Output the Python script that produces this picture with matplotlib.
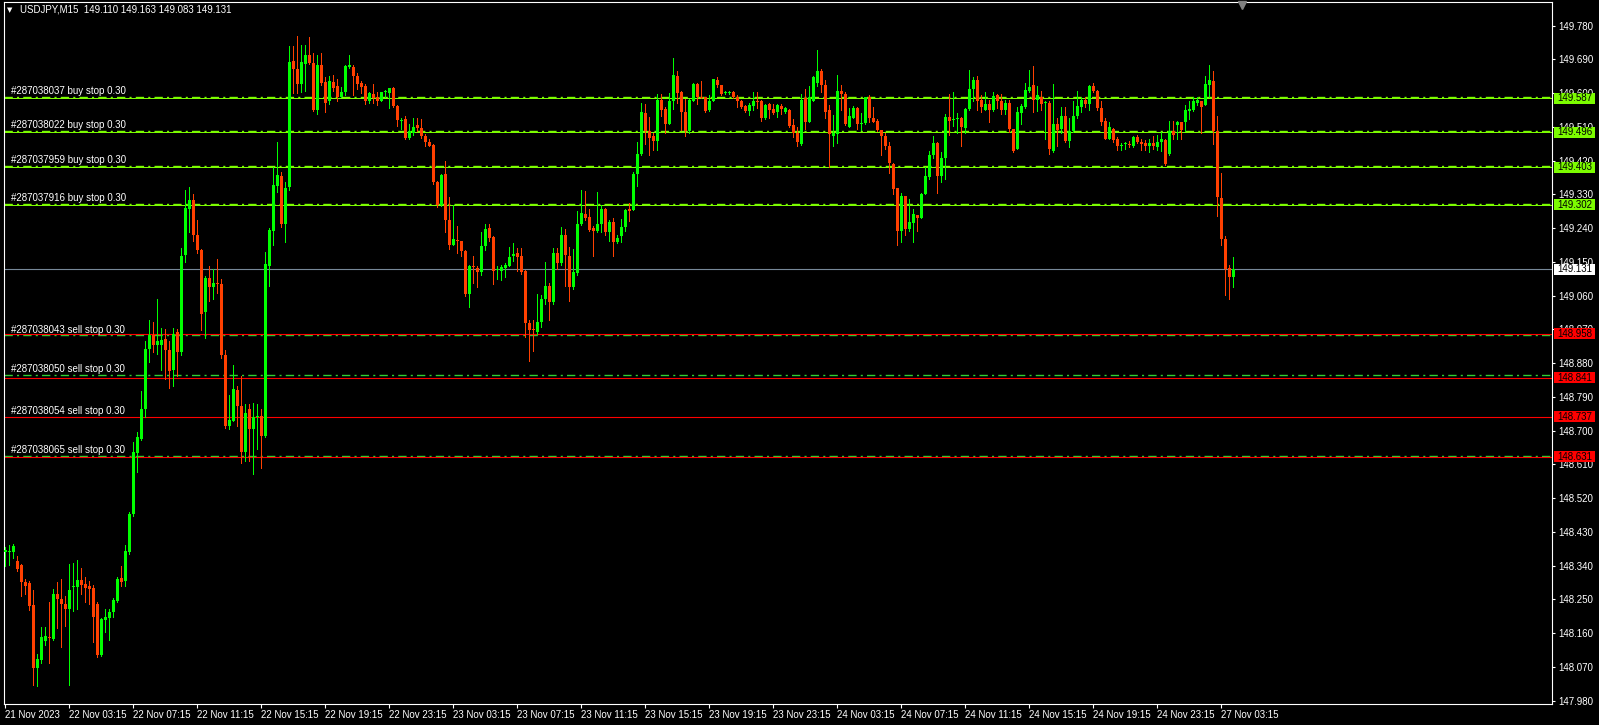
import numpy as np
import matplotlib
matplotlib.use('Agg')
import matplotlib.pyplot as plt
from matplotlib.patches import Rectangle
from matplotlib.transforms import blended_transform_factory

plt.rcParams['font.family'] = ['Liberation Sans', 'DejaVu Sans']

# USDJPY M15 candles
opens = [
    148.377, 148.376, 148.377, 148.352, 148.341, 148.296, 148.293, 148.235, 148.068, 148.088,
    148.139, 148.148, 148.145, 148.265, 148.250, 148.239, 148.224, 148.282, 148.282, 148.302,
    148.291, 148.287, 148.281, 148.237, 148.102, 148.194, 148.201, 148.216, 148.245, 148.307,
    148.298, 148.377, 148.478, 148.641, 148.678, 148.758, 148.918, 148.955, 148.929, 148.929,
    148.944, 148.916, 148.862, 148.963, 148.910, 149.168, 149.292, 149.316, 149.221, 149.182,
    149.017, 149.106, 149.082, 149.093, 149.091, 148.901, 148.713, 148.727, 148.809, 148.767,
    148.643, 148.758, 148.705, 148.737, 148.738, 148.685, 149.140, 149.232, 149.353, 149.379,
    149.252, 149.351, 149.687, 149.665, 149.625, 149.677, 149.701, 149.681, 149.555, 149.676,
    149.630, 149.578, 149.629, 149.619, 149.591, 149.602, 149.670, 149.670, 149.645, 149.628,
    149.619, 149.580, 149.598, 149.589, 149.580, 149.603, 149.600, 149.614, 149.566, 149.526,
    149.531, 149.480, 149.493, 149.515, 149.506, 149.485, 149.471, 149.462, 149.364, 149.303,
    149.384, 149.261, 149.196, 149.208, 149.205, 149.180, 149.065, 149.138, 149.133, 149.123,
    149.193, 149.241, 149.216, 149.129, 149.125, 149.134, 149.140, 149.166, 149.174, 149.166,
    149.125, 148.988, 148.970, 148.963, 148.990, 149.050, 149.086, 149.043, 149.174, 149.146,
    149.223, 149.166, 149.082, 149.121, 149.252, 149.278, 149.269, 149.241, 149.233, 149.252,
    149.292, 149.230, 149.256, 149.202, 149.219, 149.243, 149.290, 149.288, 149.385, 149.437,
    149.546, 149.499, 149.485, 149.473, 149.583, 149.557, 149.519, 149.578, 149.645, 149.602,
    149.550, 149.499, 149.580, 149.625, 149.590, 149.589, 149.555, 149.580, 149.636, 149.623,
    149.601, 149.601, 149.604, 149.591, 149.580, 149.566, 149.553, 149.566, 149.579, 149.578,
    149.533, 149.572, 149.557, 149.550, 149.566, 149.550, 149.555, 149.516, 149.494, 149.465,
    149.586, 149.524, 149.580, 149.626, 149.660, 149.623, 149.555, 149.486, 149.490, 149.606,
    149.598, 149.510, 149.535, 149.561, 149.519, 149.521, 149.589, 149.535, 149.527, 149.501,
    149.486, 149.459, 149.412, 149.347, 149.233, 149.325, 149.239, 149.254, 149.275, 149.266,
    149.331, 149.376, 149.434, 149.468, 149.378, 149.428, 149.536, 149.529, 149.532, 149.533,
    149.508, 149.558, 149.611, 149.634, 149.583, 149.555, 149.570, 149.555, 149.594, 149.578,
    149.555, 149.574, 149.505, 149.451, 149.547, 149.563, 149.606, 149.623, 149.583, 149.591,
    149.574, 149.575, 149.446, 149.518, 149.505, 149.540, 149.473, 149.499, 149.538, 149.564,
    149.583, 149.572, 149.619, 149.606, 149.561, 149.525, 149.479, 149.505, 149.477, 149.460,
    149.465, 149.464, 149.460, 149.482, 149.471, 149.468, 149.460, 149.468, 149.457, 149.469,
    149.474, 149.437, 149.499, 149.516, 149.522, 149.522, 149.553, 149.555, 149.575, 149.578,
    149.569, 149.623, 149.632, 149.499, 149.320, 149.210, 149.134, 149.110,
]
highs = [
    148.390, 148.394, 148.397, 148.366, 148.345, 148.304, 148.298, 148.276, 148.104, 148.177,
    148.177, 148.244, 148.278, 148.296, 148.304, 148.259, 148.345, 148.346, 148.354, 148.334,
    148.310, 148.298, 148.289, 148.243, 148.200, 148.225, 148.225, 148.253, 148.310, 148.338,
    148.394, 148.483, 148.669, 148.697, 148.806, 148.938, 148.994, 148.989, 149.052, 148.974,
    148.972, 148.938, 148.974, 148.972, 149.187, 149.342, 149.351, 149.331, 149.261, 149.185,
    149.112, 149.140, 149.131, 149.157, 149.104, 148.916, 148.794, 148.874, 148.820, 148.846,
    148.770, 148.772, 148.775, 148.770, 148.758, 149.176, 149.241, 149.404, 149.471, 149.389,
    149.362, 149.726, 149.726, 149.753, 149.729, 149.729, 149.749, 149.707, 149.703, 149.707,
    149.643, 149.647, 149.648, 149.639, 149.617, 149.676, 149.701, 149.676, 149.654, 149.632,
    149.625, 149.602, 149.625, 149.602, 149.604, 149.609, 149.614, 149.617, 149.569, 149.535,
    149.538, 149.519, 149.535, 149.533, 149.531, 149.490, 149.477, 149.465, 149.367, 149.385,
    149.418, 149.322, 149.303, 149.247, 149.207, 149.183, 149.142, 149.165, 149.140, 149.230,
    149.252, 149.252, 149.219, 149.138, 149.142, 149.148, 149.190, 149.201, 149.187, 149.187,
    149.129, 148.996, 148.994, 149.065, 149.061, 149.151, 149.095, 149.187, 149.187, 149.243,
    149.238, 149.191, 149.185, 149.286, 149.342, 149.340, 149.292, 149.247, 149.336, 149.302,
    149.295, 149.261, 149.266, 149.222, 149.264, 149.292, 149.306, 149.389, 149.471, 149.574,
    149.570, 149.536, 149.494, 149.598, 149.598, 149.564, 149.600, 149.693, 149.660, 149.606,
    149.584, 149.584, 149.628, 149.628, 149.632, 149.591, 149.595, 149.639, 149.642, 149.623,
    149.605, 149.606, 149.605, 149.595, 149.583, 149.569, 149.575, 149.604, 149.602, 149.583,
    149.572, 149.575, 149.572, 149.572, 149.572, 149.563, 149.558, 149.531, 149.510, 149.598,
    149.611, 149.619, 149.647, 149.716, 149.665, 149.636, 149.569, 149.541, 149.648, 149.621,
    149.604, 149.561, 149.566, 149.564, 149.547, 149.591, 149.595, 149.563, 149.531, 149.501,
    149.494, 149.471, 149.414, 149.348, 149.333, 149.327, 149.317, 149.292, 149.275, 149.333,
    149.404, 149.446, 149.485, 149.471, 149.443, 149.544, 149.598, 149.604, 149.547, 149.536,
    149.561, 149.662, 149.642, 149.647, 149.594, 149.604, 149.583, 149.604, 149.597, 149.598,
    149.583, 149.583, 149.505, 149.563, 149.572, 149.628, 149.662, 149.672, 149.619, 149.606,
    149.580, 149.578, 149.625, 149.535, 149.563, 149.563, 149.535, 149.578, 149.606, 149.589,
    149.589, 149.623, 149.628, 149.608, 149.578, 149.535, 149.522, 149.508, 149.482, 149.468,
    149.471, 149.472, 149.486, 149.488, 149.477, 149.474, 149.479, 149.486, 149.488, 149.497,
    149.477, 149.527, 149.527, 149.526, 149.524, 149.569, 149.580, 149.589, 149.591, 149.580,
    149.647, 149.675, 149.660, 149.538, 149.387, 149.219, 149.143, 149.163,
]
lows = [
    148.338, 148.343, 148.360, 148.326, 148.259, 148.265, 148.222, 148.023, 148.018, 148.080,
    148.128, 148.080, 148.141, 148.175, 148.124, 148.180, 148.023, 148.220, 148.225, 148.265,
    148.242, 148.237, 148.136, 148.096, 148.099, 148.164, 148.141, 148.203, 148.242, 148.287,
    148.287, 148.371, 148.472, 148.590, 148.674, 148.736, 148.882, 148.910, 148.904, 148.862,
    148.837, 148.815, 148.820, 148.846, 148.902, 149.149, 149.230, 149.207, 149.174, 148.969,
    148.947, 149.045, 149.050, 149.067, 148.893, 148.708, 148.705, 148.725, 148.713, 148.613,
    148.618, 148.618, 148.584, 148.652, 148.601, 148.682, 149.087, 149.196, 149.336, 149.243,
    149.202, 149.342, 149.600, 149.600, 149.602, 149.606, 149.679, 149.553, 149.544, 149.623,
    149.549, 149.572, 149.606, 149.578, 149.589, 149.595, 149.667, 149.595, 149.611, 149.600,
    149.572, 149.575, 149.575, 149.569, 149.578, 149.589, 149.561, 149.564, 149.513, 149.505,
    149.479, 149.477, 149.488, 149.499, 149.481, 149.460, 149.458, 149.359, 149.297, 149.299,
    149.230, 149.185, 149.196, 149.174, 149.165, 149.058, 149.030, 149.093, 149.084, 149.115,
    149.183, 149.207, 149.090, 149.104, 149.101, 149.109, 149.138, 149.153, 149.127, 149.118,
    148.951, 148.887, 148.913, 148.958, 148.977, 149.037, 148.994, 149.039, 149.132, 149.142,
    149.087, 149.045, 149.079, 149.115, 149.249, 149.261, 149.232, 149.166, 149.230, 149.230,
    149.221, 149.207, 149.166, 149.200, 149.204, 149.232, 149.258, 149.288, 149.353, 149.435,
    149.465, 149.436, 149.449, 149.449, 149.538, 149.494, 149.519, 149.558, 149.575, 149.502,
    149.485, 149.494, 149.578, 149.572, 149.587, 149.550, 149.553, 149.578, 149.617, 149.594,
    149.598, 149.597, 149.587, 149.563, 149.561, 149.549, 149.542, 149.555, 149.561, 149.527,
    149.531, 149.535, 149.544, 149.536, 149.544, 149.546, 149.510, 149.482, 149.460, 149.463,
    149.505, 149.524, 149.578, 149.619, 149.602, 149.533, 149.404, 149.458, 149.468, 149.555,
    149.515, 149.510, 149.533, 149.505, 149.501, 149.519, 149.522, 149.522, 149.499, 149.434,
    149.452, 149.387, 149.331, 149.196, 149.202, 149.221, 149.232, 149.204, 149.232, 149.266,
    149.331, 149.370, 149.426, 149.333, 149.364, 149.370, 149.489, 149.513, 149.494, 149.460,
    149.494, 149.555, 149.578, 149.555, 149.550, 149.555, 149.524, 149.553, 149.561, 149.544,
    149.544, 149.497, 149.443, 149.451, 149.519, 149.561, 149.604, 149.550, 149.553, 149.555,
    149.477, 149.437, 149.443, 149.460, 149.494, 149.471, 149.456, 149.496, 149.535, 149.550,
    149.564, 149.555, 149.602, 149.555, 149.516, 149.477, 149.477, 149.471, 149.449, 149.449,
    149.451, 149.457, 149.457, 149.468, 149.449, 149.449, 149.443, 149.452, 149.449, 149.445,
    149.409, 149.434, 149.479, 149.479, 149.479, 149.499, 149.531, 149.553, 149.569, 149.494,
    149.569, 149.589, 149.465, 149.272, 149.196, 149.061, 149.050, 149.083,
]
closes = [
    148.383, 148.380, 148.393, 148.332, 148.296, 148.285, 148.233, 148.068, 148.092, 148.149,
    148.152, 148.146, 148.265, 148.250, 148.237, 148.224, 148.276, 148.283, 148.301, 148.289,
    148.281, 148.278, 148.203, 148.102, 148.197, 148.203, 148.216, 148.248, 148.304, 148.296,
    148.379, 148.478, 148.643, 148.682, 148.758, 148.918, 148.955, 148.929, 148.940, 148.942,
    148.916, 148.859, 148.958, 148.910, 149.165, 149.294, 149.316, 149.221, 149.182, 149.010,
    149.106, 149.082, 149.095, 149.091, 148.901, 148.713, 148.728, 148.812, 148.767, 148.644,
    148.747, 148.705, 148.736, 148.739, 148.685, 149.144, 149.235, 149.355, 149.381, 149.252,
    149.348, 149.684, 149.665, 149.625, 149.683, 149.701, 149.681, 149.555, 149.676, 149.628,
    149.575, 149.632, 149.614, 149.591, 149.602, 149.672, 149.674, 149.645, 149.625, 149.617,
    149.580, 149.600, 149.587, 149.580, 149.602, 149.604, 149.614, 149.566, 149.529, 149.529,
    149.480, 149.499, 149.510, 149.506, 149.485, 149.471, 149.460, 149.364, 149.303, 149.381,
    149.261, 149.196, 149.210, 149.206, 149.179, 149.065, 149.138, 149.136, 149.123, 149.193,
    149.238, 149.215, 149.127, 149.131, 149.137, 149.143, 149.162, 149.170, 149.162, 149.123,
    148.988, 148.969, 148.968, 148.990, 149.050, 149.086, 149.043, 149.174, 149.146, 149.222,
    149.168, 149.082, 149.123, 149.252, 149.280, 149.266, 149.235, 149.233, 149.252, 149.292,
    149.230, 149.256, 149.202, 149.214, 149.243, 149.288, 149.287, 149.385, 149.437, 149.550,
    149.499, 149.481, 149.473, 149.581, 149.555, 149.519, 149.578, 149.648, 149.600, 149.549,
    149.499, 149.582, 149.625, 149.589, 149.588, 149.553, 149.578, 149.638, 149.623, 149.597,
    149.603, 149.603, 149.591, 149.580, 149.563, 149.552, 149.569, 149.578, 149.577, 149.533,
    149.569, 149.555, 149.547, 149.569, 149.559, 149.561, 149.513, 149.494, 149.471, 149.583,
    149.524, 149.589, 149.643, 149.660, 149.623, 149.550, 149.490, 149.494, 149.606, 149.597,
    149.518, 149.538, 149.561, 149.519, 149.521, 149.589, 149.535, 149.524, 149.502, 149.485,
    149.458, 149.413, 149.345, 149.233, 149.326, 149.239, 149.257, 149.278, 149.266, 149.331,
    149.378, 149.435, 149.468, 149.378, 149.428, 149.536, 149.527, 149.531, 149.533, 149.510,
    149.558, 149.611, 149.634, 149.580, 149.564, 149.570, 149.555, 149.592, 149.578, 149.555,
    149.574, 149.505, 149.446, 149.550, 149.566, 149.608, 149.617, 149.583, 149.595, 149.572,
    149.576, 149.451, 149.518, 149.502, 149.540, 149.473, 149.499, 149.538, 149.566, 149.581,
    149.572, 149.619, 149.606, 149.561, 149.522, 149.479, 149.510, 149.474, 149.458, 149.461,
    149.466, 149.462, 149.482, 149.471, 149.465, 149.460, 149.468, 149.458, 149.471, 149.477,
    149.412, 149.499, 149.488, 149.524, 149.502, 149.555, 149.558, 149.578, 149.583, 149.564,
    149.625, 149.634, 149.499, 149.322, 149.210, 149.132, 149.109, 149.131,
]
assert len(opens) == len(highs) == len(lows) == len(closes)

# pending orders
buy_ids = ['#287038037', '#287038022', '#287037959', '#287037916']
buy_levels = [149.587, 149.496, 149.403, 149.302]
buy_order_lines = [149.590, 149.499, 149.406, 149.305]
sell_ids = ['#287038043', '#287038050', '#287038054', '#287038065']
sell_levels = [148.958, 148.841, 148.737, 148.631]
sell_order_lines = [148.954, 148.849, 148.737, 148.633]
lot = '0.30'
bid = 149.131

tick_bars = [0, 16, 32, 48, 64, 80, 96, 112, 128, 144, 160, 176, 192, 208, 224, 240, 256, 272, 288, 304]
tick_times = ['21 Nov 2023', '22 Nov 03:15', '22 Nov 07:15', '22 Nov 11:15', '22 Nov 15:15',
              '22 Nov 19:15', '22 Nov 23:15', '23 Nov 03:15', '23 Nov 07:15', '23 Nov 11:15',
              '23 Nov 15:15', '23 Nov 19:15', '23 Nov 23:15', '24 Nov 03:15', '24 Nov 07:15',
              '24 Nov 11:15', '24 Nov 15:15', '24 Nov 19:15', '24 Nov 23:15', '27 Nov 03:15']
price_ticks = [147.980, 148.070, 148.160, 148.250, 148.340, 148.430, 148.520, 148.610, 148.700,
               148.790, 148.880, 148.970, 149.060, 149.150, 149.240, 149.330, 149.420, 149.510,
               149.600, 149.690, 149.780]

BULL = '#00ff00'
BEAR = '#ff4000'
BUY_LINE = '#7cfc00'
ORDER_DASH = '#32cd32'
SELL_LINE = '#ff0000'

fig = plt.figure(figsize=(15.99, 7.25), dpi=100, facecolor='black')
ax = fig.add_axes([4 / 1599, 21 / 725, 1548 / 1599, 702 / 725])
ax.set_facecolor('black')

o = np.array(opens)
h = np.array(highs)
l = np.array(lows)
c = np.array(closes)
x = np.arange(len(c))
up = c >= o
colors = np.where(up, BULL, BEAR)

ax.vlines(x, l, h, colors=colors, linewidth=0.72, antialiased=False, zorder=3)
body_lo = np.minimum(o, c)
body_h = np.maximum(np.abs(c - o), 0.0027)
ax.bar(x, body_h, bottom=body_lo, width=0.74, color=colors, linewidth=0,
       antialiased=False, zorder=4)

# order lines
dash = (0, (6, 3, 1.5, 3))
blend = blended_transform_factory(ax.transAxes, ax.transData)
for oid, lvl, ol in zip(buy_ids, buy_levels, buy_order_lines):
    ax.axhline(lvl, color=BUY_LINE, lw=0.72, zorder=2)
    ax.axhline(ol, color=BUY_LINE, lw=1.0, linestyle=dash, zorder=2)
    ax.annotate(f'{oid} buy stop {lot}', xy=(0.0045, ol), xycoords=blend,
                xytext=(0, 4.2), textcoords='offset points', va='center', ha='left',
                color='white', fontsize=7, zorder=6)
for oid, lvl, ol in zip(sell_ids, sell_levels, sell_order_lines):
    if abs(ol - lvl) > 0.001:
        ax.axhline(ol, color=ORDER_DASH, lw=1.0, linestyle=dash, zorder=1.9)
    ax.axhline(lvl, color=SELL_LINE, lw=0.8, zorder=2)
    ax.annotate(f'{oid} sell stop {lot}', xy=(0.0045, ol), xycoords=blend,
                xytext=(0, 4.2), textcoords='offset points', va='center', ha='left',
                color='white', fontsize=7, zorder=6)
ax.axhline(bid, color='#778899', lw=0.8, zorder=2)

ax.set_xlim(-0.325, 386.7)
ax.set_ylim(147.9712, 149.8432)

for s in ax.spines.values():
    s.set_color('white')
    s.set_linewidth(0.8)

ax.yaxis.tick_right()
ax.set_yticks(price_ticks)
ax.set_yticklabels([f'{v:.3f}' for v in price_ticks])
ax.tick_params(axis='y', colors='white', labelsize=7, length=2.5, width=0.8, pad=2)
ax.set_xticks(tick_bars)
ax.set_xticklabels(tick_times, ha='left')
ax.tick_params(axis='x', colors='white', labelsize=7, length=3, width=0.8, pad=1.5)

# price labels on the right scale
box_h = 11 / 375
box_w = 41 / 1548
label_boxes = ([(v, BUY_LINE) for v in buy_levels] + [(bid, 'white')] +
               [(v, SELL_LINE) for v in sell_levels])
for v, col in label_boxes:
    ax.add_patch(Rectangle((1.0013, v - box_h / 2), box_w, box_h, transform=blend,
                           facecolor=col, edgecolor='none', clip_on=False, zorder=8))
    ax.text(1.0032, v, f'{v:.3f}', transform=blend, va='center', ha='left',
            fontsize=7, color='black', clip_on=False, zorder=9)

# header
fig.text(10 / 1599, 1 - 10 / 725, '\u25bc', color='white', fontsize=5,
         family='DejaVu Sans', va='center', ha='center')
fig.text(20 / 1599, 1 - 10 / 725,
         f'USDJPY,M15  {opens[-1]:.3f} {highs[-1]:.3f} {lows[-1]:.3f} {closes[-1]:.3f}',
         color='white', fontsize=7, va='center', ha='left')
ax.plot([0.7997], [0.996], marker='v', color='#808080', markersize=6,
        transform=ax.transAxes, clip_on=False, zorder=10)

fig.savefig('out.png', dpi=100, facecolor='black')
